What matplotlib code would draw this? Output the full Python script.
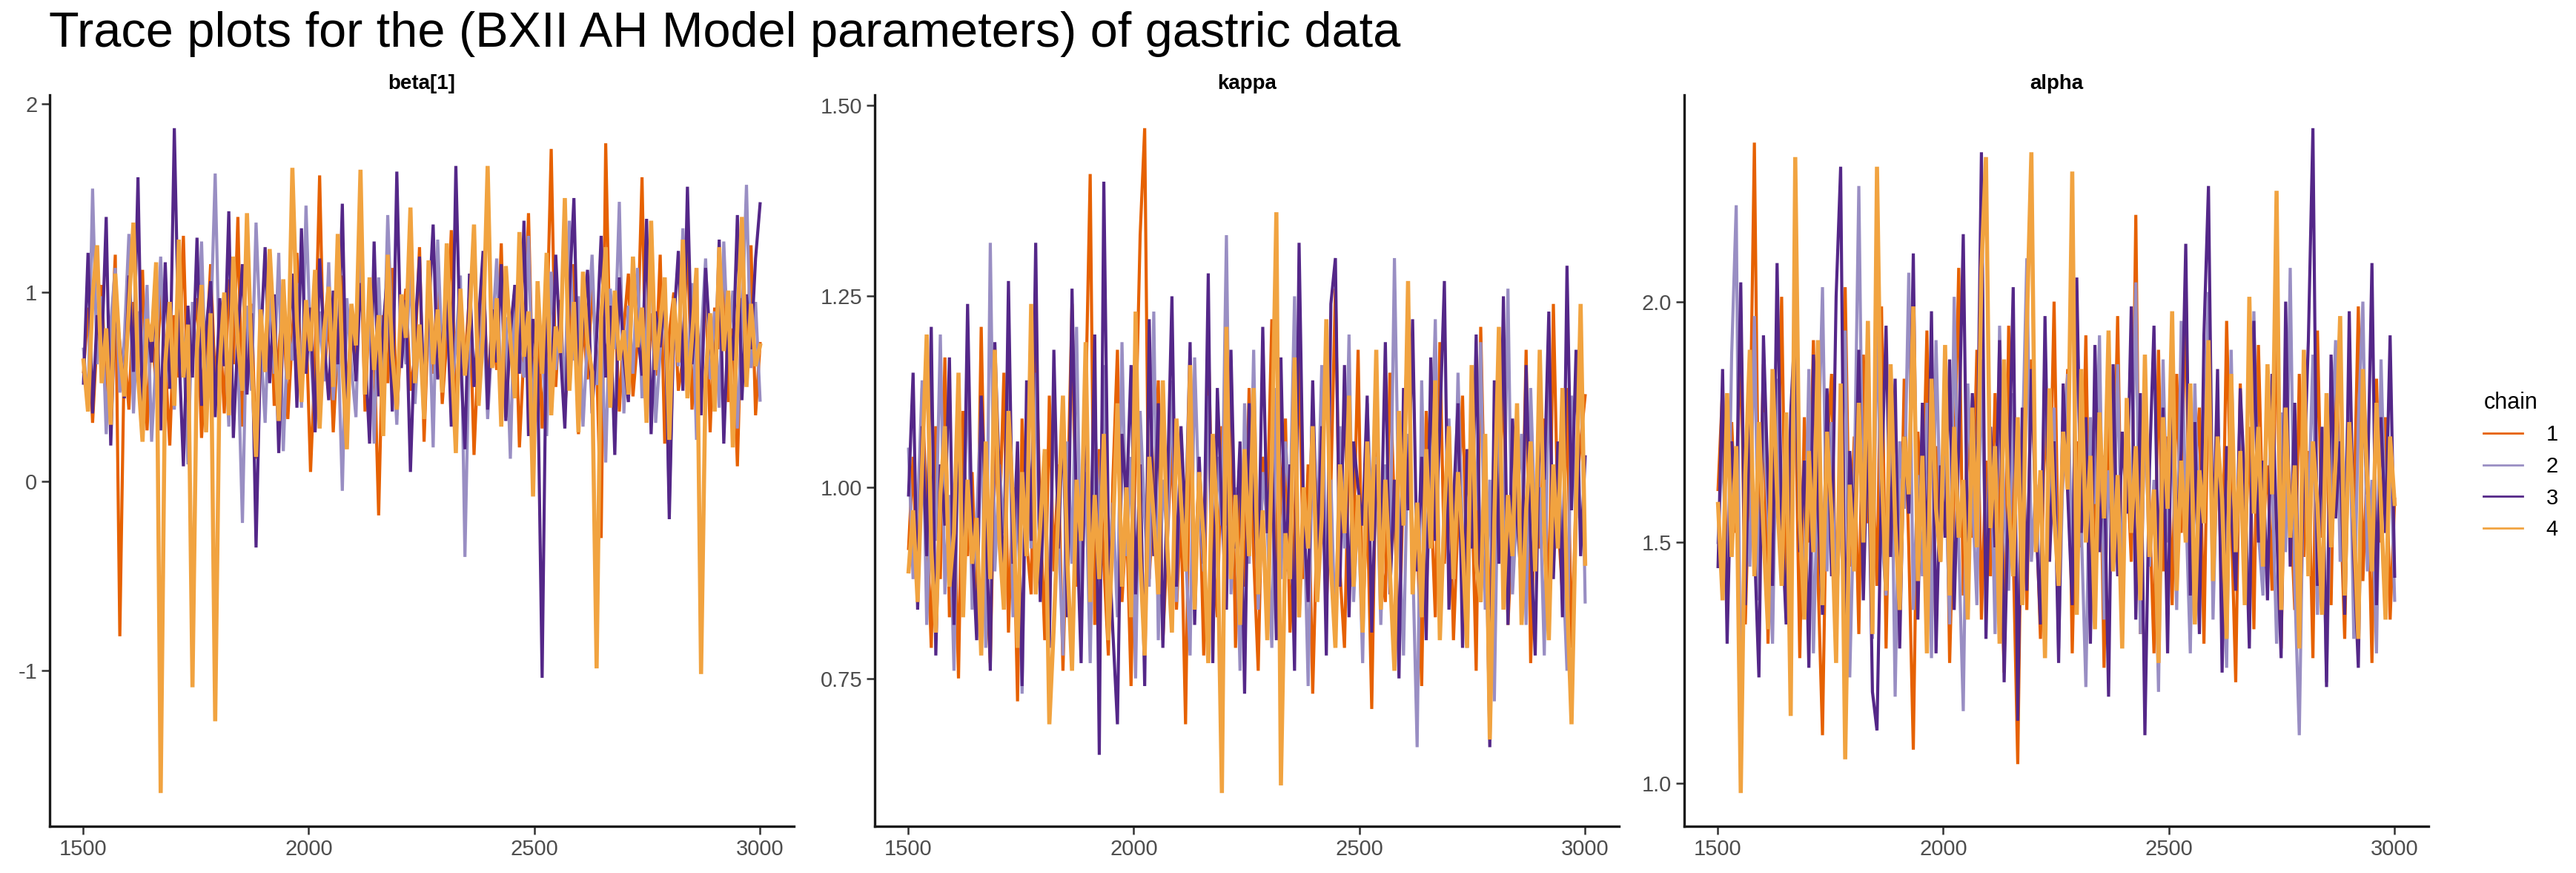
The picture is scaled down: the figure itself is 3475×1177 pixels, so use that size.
import numpy as np
import matplotlib.pyplot as plt
from matplotlib.ticker import FormatStrFormatter

plt.rcParams['font.family'] = ['Liberation Sans', 'DejaVu Sans']
plt.rcParams['axes.unicode_minus'] = False

title = "Trace plots for the (BXII AH Model parameters) of gastric data"
params = ["beta[1]", "kappa", "alpha"]
chains = ["1", "2", "3", "4"]
chain_colors = ["#E66101", "#998EC3", "#542788", "#F1A340"]
chain_lw = [3.0, 3.0, 3.0, 4.0]
iter_start, iter_end = 1501, 3000
x_ticks = [1500, 2000, 2500, 3000]

# beta[1] draws, in hundredths
beta_c1 = [58, 92, 31, 77, 104, 45, 66, 120, -82, 71, 38, 95, 60, 112, 27,
           83, 49, 101, 64, 19, 88, 55, 130, 42, 76, 97, 23, 68, 115, 51,
           85, 36, 107, 62, 140, 29, 73, 94, 12, 81, 58, 118, 40, 69, 99,
           33, 78, 121, 47, 86, 5, 64, 162, 53, 91, 26, 74, 109, 44, 83,
           60, 128, 37, 96, 70, -18, 88, 52, 113, 35, 79, 102, 48, 67, 124,
           21, 90, 57, 108, 41, 75, 133, 30, 84, 63, 99, 14, 72, 117, 46,
           87, 59, 126, 34, 80, 101, 18, 69, 142, 43, 92, 28, 77, 176, 50,
           96, 39, 71, 115, 25, 86, 54, 104, 66, -30, 179, 61, 93, 37, 82,
           110, 45, 74, 161, 32, 89, 56, 120, 20, 78, 100, 48, 65, 131, 38,
           84, 59, 106, 26, 92, 70, 117, 42, 81, 8, 97, 63, 125, 35, 73]
beta_c2 = [70, 40, 155, 62, 98, 25, 84, 113, 47, 76, 131, 36, 90, 58, 104,
           21, 67, 119, 52, 85, 38, 102, 73, 9, 95, 61, 127, 44, 80, 163,
           55, 88, 29, 112, 66, -22, 93, 48, 137, 74, 31, 99, 57, 121, 16,
           82, 64, 105, 39, 146, 71, 27, 90, 53, 116, 43, 78, -5, 97, 60,
           34, 123, 69, 86, 20, 108, 50, 141, 75, 30, 94, 62, 114, 41, 83,
           57, 100, 18, 128, 65, 89, 45, 72, 109, -40, 79, 135, 52, 96, 33,
           76, 118, 42, 87, 12, 104, 68, 55, 130, 38, 91, 73, 24, 111, 59,
           86, 47, 138, 64, 98, 29, 77, 120, 51, 83, 10, 102, 70, 148, 36,
           93, 57, 113, 44, 80, 125, 31, 69, 97, -12, 86, 61, 134, 49, 105,
           22, 75, 118, 54, 90, 39, 127, 66, 101, 28, 84, 157, 60, 95, 43]
beta_c3 = [52, 121, 36, 88, 67, 140, 19, 95, 73, 44, 109, 58, 161, 30, 84,
           63, 102, 27, 116, 49, 187, 71, 8, 93, 55, 129, 40, 80, 106, 34,
           97, 61, 143, 23, 78, 115, 46, 89, -35, 72, 124, 52, 99, 15, 85,
           68, 110, 39, 134, 57, 92, 26, 118, 74, 43, 101, 62, 147, 31, 87,
           53, 105, 70, 20, 127, 45, 82, 112, 37, 164, 60, 96, 5, 79, 119,
           41, 88, 136, 54, 74, 98, 29, 167, 66, 17, 110, 50, 85, 122, 38,
           91, 63, 115, 32, 79, 104, 57, 138, 24, 86, 60, -104, 94, 45, 120,
           70, 28, 99, 150, 47, 83, 112, 36, 76, 130, 55, 93, 14, 108, 65,
           42, 117, 80, 56, 139, 25, 90, 71, 103, -20, 84, 122, 48, 156, 62,
           96, 35, 113, 74, 51, 128, 20, 87, 64, 141, 43, 99, 70, 118, 147]
beta_c4 = [64, 37, 98, 125, 52, 81, 30, 110, 68, 45, 93, 137, 57, 21, 86,
           74, 116, -165, 62, 95, 40, 128, 55, 83, -109, 70, 104, 26, 89, -127,
           61, 100, 35, 119, 73, 48, 142, 66, 13, 91, 58, 123, 77, 32, 107,
           54, 166, 85, 42, 96, 69, 112, 28, 80, 103, 50, 131, 63, 17, 94,
           72, 165, 46, 108, 59, 88, 24, 120, 67, 38, 99, 76, 145, 52, 83,
           33, 117, 62, 91, 47, 126, 71, 15, 102, 56, 84, 136, 40, 78, 167,
           60, 97, 29, 114, 75, 44, 132, 66, 90, -8, 106, 57, 121, 35, 82,
           68, 150, 48, 95, 26, 111, 73, 58, -99, 87, 124, 39, 101, 64, 80,
           46, 119, 71, 92, 31, 138, 59, 84, 108, 22, 97, 63, 128, 44, 76,
           113, -102, 55, 89, 37, 124, 69, 101, 18, 83, 140, 50, 94, 61, 72]

# kappa draws, in hundredths
kappa_c1 = [92, 104, 85, 113, 96, 79, 108, 88, 117, 83, 99, 75, 110, 91, 102,
            84, 121, 90, 77, 106, 95, 115, 81, 100, 72, 109, 93, 86, 119, 97,
            80, 112, 89, 103, 76, 98, 124, 87, 94, 111, 141, 82, 105, 90, 78,
            101, 118, 85, 96, 74, 107, 133, 147, 88, 99, 114, 80, 93, 106, 84,
            97, 69, 110, 89, 102, 78, 120, 92, 83, 108, 95, 116, 79, 100, 87,
            113, 91, 76, 104, 97, 122, 85, 99, 109, 81, 94, 117, 88, 103, 73,
            96, 111, 84, 100, 126, 89, 79, 106, 93, 118, 82, 98, 71, 107, 91,
            85, 115, 97, 78, 102, 123, 88, 94, 74, 110, 99, 83, 119, 90, 105,
            80, 96, 112, 87, 101, 76, 121, 93, 84, 107, 98, 115, 82, 95, 103,
            89, 118, 77, 100, 92, 109, 81, 124, 96, 86, 113, 79, 99, 106, 112]
kappa_c2 = [105, 88, 97, 114, 82, 101, 93, 120, 86, 99, 76, 108, 91, 117, 84,
            96, 111, 79, 132, 89, 103, 94, 118, 83, 100, 73, 107, 92, 115, 87,
            99, 81, 112, 95, 78, 106, 90, 121, 85, 102, 77, 109, 94, 116, 88,
            98, 83, 119, 91, 104, 75, 110, 96, 87, 123, 80, 101, 93, 114, 85,
            107, 92, 78, 117, 97, 89, 112, 81, 104, 95, 133, 86, 100, 76, 111,
            90, 118, 84, 102, 95, 79, 113, 88, 106, 97, 125, 83, 99, 74, 109,
            94, 116, 87, 101, 80, 108, 92, 120, 85, 98, 77, 111, 96, 104, 82,
            103, 89, 130, 95, 78, 107, 91, 66, 114, 86, 100, 122, 83, 97, 109,
            88, 115, 93, 79, 104, 97, 119, 84, 101, 72, 110, 90, 126, 86, 98,
            107, 82, 113, 94, 100, 78, 117, 89, 105, 91, 76, 112, 96, 121, 85]
kappa_c3 = [99, 115, 84, 108, 91, 121, 78, 103, 95, 117, 82, 110, 88, 124, 93,
            80, 112, 97, 76, 119, 101, 86, 127, 90, 106, 74, 114, 93, 132, 85,
            104, 79, 118, 92, 109, 83, 126, 96, 77, 113, 88, 120, 65, 140, 94,
            81, 69, 107, 98, 116, 86, 103, 74, 122, 91, 111, 79, 100, 125, 87,
            108, 95, 119, 82, 104, 90, 128, 77, 113, 97, 84, 118, 92, 106, 73,
            111, 99, 87, 121, 94, 105, 80, 117, 89, 103, 76, 132, 96, 85, 114,
            91, 108, 78, 124, 130, 87, 116, 83, 106, 100, 95, 112, 81, 103, 92,
            119, 86, 101, 75, 113, 97, 122, 89, 104, 80, 117, 93, 108, 127, 84,
            98, 111, 79, 105, 92, 120, 85, 102, 66, 114, 90, 125, 82, 109, 96,
            87, 116, 93, 78, 110, 101, 123, 88, 106, 83, 129, 97, 118, 91, 104]
kappa_c4 = [89, 97, 85, 103, 120, 92, 81, 99, 108, 87, 94, 115, 83, 101, 90,
            96, 78, 106, 88, 118, 93, 84, 110, 98, 79, 102, 91, 124, 86, 95,
            105, 69, 82, 97, 112, 90, 76, 101, 93, 119, 85, 99, 88, 107, 80,
            94, 111, 87, 100, 83, 123, 91, 78, 104, 96, 86, 114, 92, 81, 109,
            98, 89, 116, 84, 102, 93, 77, 107, 95, 60, 121, 88, 99, 82, 105,
            91, 113, 86, 97, 80, 104, 136, 61, 94, 88, 117, 83, 100, 92, 108,
            85, 96, 122, 90, 79, 103, 94, 112, 87, 99, 81, 106, 93, 118, 84,
            101, 89, 76, 110, 95, 127, 86, 98, 83, 105, 92, 114, 80, 97, 108,
            88, 102, 93, 79, 116, 90, 85, 107, 67, 96, 121, 84, 99, 91, 111,
            82, 97, 106, 89, 118, 94, 80, 103, 92, 113, 86, 69, 98, 124, 90]

# alpha draws, in hundredths
alpha_c1 = [161, 182, 140, 175, 152, 196, 133, 168, 233, 147, 187, 129, 171, 156, 201,
            138, 164, 183, 126, 176, 150, 192, 143, 110, 169, 185, 135, 158, 203, 145,
            172, 131, 189, 154, 166, 141, 199, 128, 178, 160, 137, 184, 149, 107, 173,
            155, 194, 132, 170, 146, 186, 125, 162, 207, 139, 177, 151, 190, 134, 167,
            143, 181, 157, 123, 195, 148, 104, 174, 136, 188, 159, 130, 179, 153, 200,
            142, 165, 186, 127, 171, 149, 193, 135, 160, 182, 124, 176, 154, 197, 139,
            168, 146, 218, 131, 180, 158, 127, 190, 144, 172, 137, 185, 152, 205, 133,
            163, 178, 129, 187, 150, 170, 138, 196, 156, 121, 183, 145, 174, 132, 191,
            153, 166, 140, 202, 128, 177, 159, 136, 185, 147, 169, 126, 194, 151, 173,
            137, 189, 160, 130, 181, 155, 199, 142, 168, 125, 184, 150, 176, 134, 159]
alpha_c2 = [150, 172, 134, 189, 220, 110, 163, 145, 197, 138, 177, 156, 129, 184, 148,
            170, 132, 191, 153, 141, 186, 127, 166, 203, 144, 175, 135, 159, 194, 122,
            161, 224, 147, 180, 130, 198, 152, 139, 185, 118, 171, 157, 206, 136, 164,
            143, 179, 126, 192, 154, 168, 133, 201, 149, 115, 183, 160, 137, 188, 145,
            174, 131, 195, 157, 140, 181, 124, 169, 209, 146, 162, 135, 190, 151, 178,
            128, 167, 185, 142, 199, 153, 120, 176, 158, 193, 134, 165, 147, 187, 139,
            172, 155, 204, 131, 180, 145, 163, 119, 188, 150, 174, 136, 196, 158, 127,
            183, 148, 166, 202, 134, 171, 157, 124, 190, 143, 179, 161, 132, 198, 152,
            139, 186, 164, 129, 177, 148, 207, 141, 110, 170, 155, 189, 135, 174, 121,
            167, 192, 146, 158, 183, 130, 175, 200, 144, 163, 127, 188, 152, 171, 138]
alpha_c3 = [145, 186, 129, 171, 158, 204, 137, 180, 150, 122, 193, 162, 141, 208, 155,
            133, 177, 196, 148, 167, 124, 189, 157, 135, 182, 143, 201, 228, 126, 169,
            152, 190, 138, 176, 119, 111, 163, 195, 147, 184, 128, 172, 156, 210, 134,
            179, 144, 198, 127, 166, 151, 188, 136, 170, 214, 142, 181, 159, 231, 130,
            174, 149, 192, 121, 162, 203, 113, 178, 140, 186, 155, 133, 197, 146, 171,
            125, 183, 160, 137, 205, 152, 176, 129, 191, 148, 168, 118, 187, 143, 173,
            156, 199, 134, 181, 110, 165, 195, 142, 178, 127, 188, 151, 169, 212, 139,
            175, 131, 193, 224, 146, 186, 123, 170, 157, 140, 182, 162, 128, 196, 150,
            167, 138, 185, 153, 126, 200, 145, 179, 132, 163, 192, 236, 141, 174, 120,
            189, 155, 171, 135, 198, 147, 124, 182, 160, 208, 137, 176, 152, 193, 143]
alpha_c4 = [158, 138, 181, 147, 170, 98, 164, 190, 143, 175, 152, 132, 186, 160, 141,
            177, 114, 230, 155, 134, 169, 148, 192, 137, 173, 156, 125, 183, 105, 162,
            144, 179, 150, 196, 131, 228, 166, 140, 187, 154, 136, 172, 160, 199, 142,
            168, 127, 184, 157, 146, 191, 139, 174, 151, 163, 134, 178, 149, 207, 230,
            153, 170, 129, 188, 158, 143, 176, 137, 195, 231, 148, 165, 126, 182, 156,
            141, 173, 161, 227, 135, 186, 150, 168, 132, 177, 155, 194, 144, 164, 128,
            180, 152, 170, 138, 189, 147, 161, 125, 176, 157, 198, 140, 167, 150, 183,
            133, 165, 154, 192, 142, 172, 159, 130, 185, 148, 169, 137, 201, 156, 174,
            145, 187, 160, 223, 136, 178, 151, 166, 128, 190, 143, 171, 158, 135, 181,
            149, 167, 197, 139, 175, 154, 130, 186, 162, 144, 179, 157, 134, 172, 158]

panel_data = [
    [beta_c1, beta_c2, beta_c3, beta_c4],
    [kappa_c1, kappa_c2, kappa_c3, kappa_c4],
    [alpha_c1, alpha_c2, alpha_c3, alpha_c4],
]
y_ticks = [[-1, 0, 1, 2], [0.75, 1.00, 1.25, 1.50], [1.0, 1.5, 2.0]]
y_fmt = ['%g', '%.2f', '%.1f']

# figure layout, in pixels of the 3475x1177 output
W, H = 3475, 1177
fig = plt.figure(figsize=(W / 100, H / 100), dpi=100)
panel_left = [67, 1180, 2272]
panel_w = 1004
ax_top, ax_bottom = 128, 1114

fig.text(66 / W, 1 - 63 / H, title, fontsize=48, va='baseline', ha='left', color='black')

tick_col = '#4D4D4D'
axes = []
for k in range(3):
    ax = fig.add_axes([panel_left[k] / W, 1 - ax_bottom / H, panel_w / W, (ax_bottom - ax_top) / H])
    for c in range(4):
        vals = np.array(panel_data[k][c]) / 100.0
        xs = np.linspace(iter_start, iter_end, len(vals))
        ax.plot(xs, vals, color=chain_colors[c], lw=chain_lw[c], label=chains[c],
                solid_joinstyle='miter')
    ax.margins(x=0.05, y=0.05)
    ax.set_xticks(x_ticks)
    ax.set_yticks(y_ticks[k])
    ax.yaxis.set_major_formatter(FormatStrFormatter(y_fmt[k]))
    for s in ['top', 'right']:
        ax.spines[s].set_visible(False)
    for s in ['left', 'bottom']:
        ax.spines[s].set_linewidth(2.4)
        ax.spines[s].set_color('#1A1A1A')
    ax.tick_params(axis='both', length=8, width=1.8, color='#333333',
                   labelcolor=tick_col, labelsize=21, pad=4)
    ax.set_title(params[k], fontsize=20, fontweight='bold', pad=6)
    axes.append(ax)

handles, labels = axes[2].get_legend_handles_labels()
leg = fig.legend(handles, labels, title='chain', loc='center left',
                 bbox_to_anchor=(3324 / W, 1 - 628 / H), frameon=False,
                 fontsize=21, title_fontsize=22, handlelength=1.8,
                 handletextpad=1.1, labelspacing=0.5, alignment='left')
for line in leg.get_lines():
    line.set_linewidth(2.0)

fig.savefig('out.png', dpi=100)
